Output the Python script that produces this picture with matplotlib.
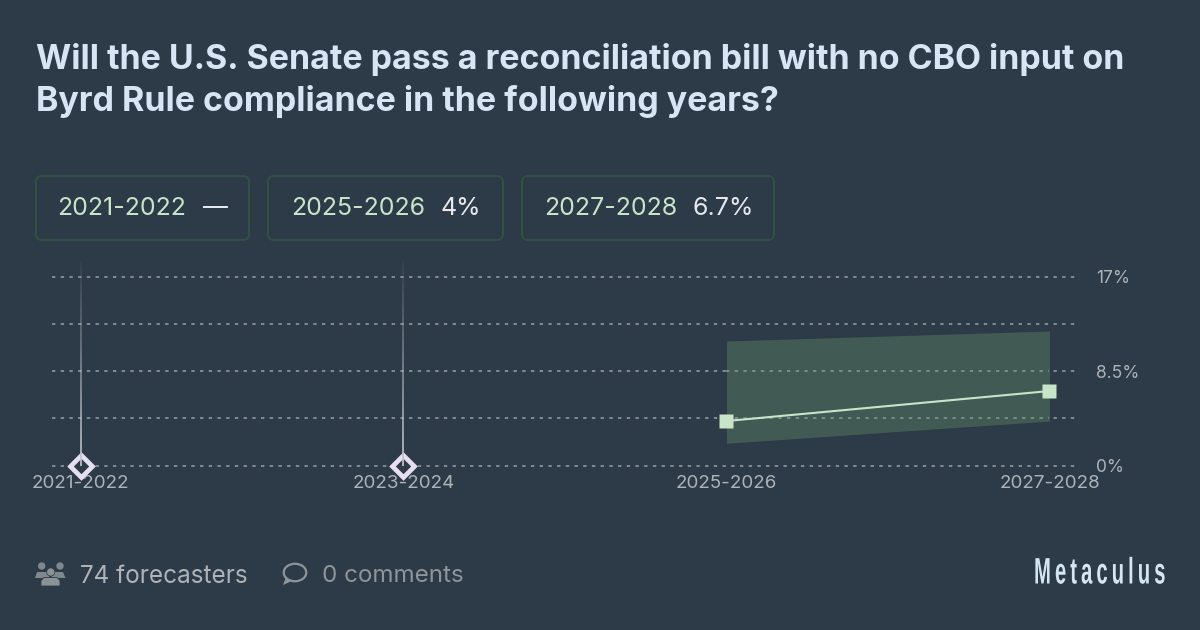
import numpy as np
import matplotlib
matplotlib.use('Agg')
import matplotlib.pyplot as plt
from matplotlib import font_manager
from matplotlib.collections import LineCollection
from matplotlib.patches import Circle, Ellipse, FancyBboxPatch, Polygon
from matplotlib.patheffects import AbstractPathEffect
from matplotlib.transforms import Affine2D

plt.rcParams['font.family'] = ['Inter', 'DejaVu Sans']

title_lines = ["Will the U.S. Senate pass a reconciliation bill with no CBO input on",
               "Byrd Rule compliance in the following years?"]
periods = ["2021-2022", "2023-2024", "2025-2026", "2027-2028"]
legend_labels = ["2021-2022", "2025-2026", "2027-2028"]
legend_values = ["—", "4%", "6.7%"]
annulled = [0, 1]
pred_x = [2, 3]
pred_mid = [4.0, 6.7]
pred_low = [2.0, 4.0]
pred_high = [11.2, 12.1]
grid_vals = [0, 4.25, 8.5, 12.75, 17]
y_ticks = [0, 8.5, 17]
y_tick_labels = ["0%", "8.5%", "17%"]

BG = '#2d3a47'
MINT = '#c8e4c9'
TICK = '#aeb3b8'
FOOT = '#8f9599'
GRID = '#98a0a7'
DASH = (2.2, 3.5)


class SqueezeX(AbstractPathEffect):
    # narrows text horizontally about a fixed pixel x
    def __init__(self, x0, factor):
        super().__init__()
        self.x0 = x0
        self.factor = factor

    def draw_path(self, renderer, gc, tpath, affine, rgbFace=None):
        squeeze = Affine2D().translate(-self.x0, 0).scale(self.factor, 1).translate(self.x0, 0)
        renderer.draw_path(gc, tpath, affine + squeeze, rgbFace)


fig = plt.figure(figsize=(12, 6.3), dpi=100, facecolor=BG)

# page layer in pixel coordinates, y pointing down
page = fig.add_axes([0, 0, 1, 1])
page.set_xlim(0, 1200)
page.set_ylim(630, 0)
page.axis('off')

page.text(35.5, 59, title_lines[0], color='#d7e5f4', fontsize=24.45, fontweight='bold', va='center')
page.text(35.5, 102, title_lines[1], color='#d7e5f4', fontsize=24.45, fontweight='bold', va='center')

box_left = [36, 268, 522]
box_right = [249, 503, 774]
label_x = [57, 291, 544]
value_x = [203, 440, 692]
for i in range(len(legend_labels)):
    page.add_patch(FancyBboxPatch((box_left[i], 176), box_right[i] - box_left[i], 64,
                                  boxstyle="round,pad=0,rounding_size=6",
                                  fc='none', ec='#2f5243', lw=1.5))
    page.text(label_x[i], 208.5, legend_labels[i], color=MINT, fontsize=17.95, va='center')
    page.text(value_x[i], 208.5, legend_values[i], color='#e6eaee', fontsize=17.95, va='center')

# forecasters icon: three people
for cx in [41.7, 60]:
    page.add_patch(Circle((cx, 566), 3.7, fc='#7f888f', ec='none'))
page.add_patch(Polygon([(35, 578), (37, 572), (47, 572), (50, 578)], fc='#7f888f', ec='none'))
page.add_patch(Polygon([(51, 578), (54, 572), (63, 572), (65.5, 578)], fc='#7f888f', ec='none'))
page.add_patch(Circle((50.7, 572), 4.4, fc=BG, ec='none'))
page.add_patch(Circle((50.7, 572), 3.7, fc='#8a9298', ec='none'))
page.add_patch(Polygon([(41, 586), (41, 580.5), (44, 577.5), (57, 577.5), (60, 580.5), (60, 586)],
                       fc='#8a9298', ec=BG, lw=0.6))
page.text(80, 576.5, "74 forecasters", color=TICK, fontsize=17.5, va='center')

# comment bubble
page.add_patch(Polygon([(286, 577), (283, 585), (292, 581)], fc=FOOT, ec='none'))
page.add_patch(Ellipse((295, 572.5), 22.5, 17.5, fc=BG, ec=FOOT, lw=1.6))
page.text(322, 576.5, "0 comments", color=FOOT, fontsize=17.4, va='center')

# wordmark, squeezed to a condensed look
names = {f.name for f in font_manager.fontManager.ttflist}
mark_font = 'Liberation Sans Narrow' if 'Liberation Sans Narrow' in names else 'Liberation Sans'
page.text(1165.5, 574, "M\u2009e\u2009t\u2009a\u2009c\u2009u\u2009l\u2009u\u2009s", color='#d5e6f3', fontsize=26.5,
          fontweight='bold', family=[mark_font, 'DejaVu Sans'], va='center', ha='right',
          path_effects=[SqueezeX(1165.5, 0.55)])

# chart layer: data scales placed by the pixel extents of the plot
px_per_x = (1049.5 - 80.5) / 3
px_per_y = (465.5 - 276.5) / 17
ax = fig.add_axes([52 / 1200, 1 - 465.5 / 630, (1078 - 52) / 1200, (465.5 - 262) / 630])
ax.patch.set_alpha(0)
ax.set_xlim(-(80.5 - 52) / px_per_x, 3 + (1078 - 1049.5) / px_per_x)
ax.set_ylim(0, (465.5 - 262) / px_per_y)
for s in ax.spines.values():
    s.set_visible(False)

for v in grid_vals:
    ax.axhline(v, color=GRID, lw=1.1, dashes=DASH, zorder=1, clip_on=False)

ax.fill_between(pred_x, pred_low, pred_high, color='#415a54', lw=0, zorder=2)
for v in grid_vals[1:3]:
    ax.plot(pred_x, [v, v], color='#8a9a94', lw=1.1, dashes=DASH, zorder=3)
ax.plot(pred_x, pred_mid, color=MINT, lw=1.5, zorder=4)
ax.plot(pred_x, pred_mid, ls='none', marker='s', ms=10, mfc=MINT, mec='none', zorder=5, clip_on=False)

# annulled periods: diamond at the baseline, stem fading upward
ax.plot(annulled, [0, 0], ls='none', marker='D', ms=11, mfc=BG, mec='#e5dff0', mew=3.4, zorder=5, clip_on=False)
top = ax.get_ylim()[1]
levels = np.linspace(0, top, 60)
for x in annulled:
    segs = [[(x, levels[i]), (x, levels[i + 1])] for i in range(len(levels) - 1)]
    cols = [(0.74, 0.76, 0.79, 0.95 * (1 - lv / top) + 0.03) for lv in levels[:-1]]
    ax.add_collection(LineCollection(segs, colors=cols, linewidths=1.3, zorder=6, capstyle='butt'))

ax.set_xticks(range(len(periods)))
ax.set_xticklabels(periods, color=TICK, fontsize=13.5)
ax.set_yticks(y_ticks)
ax.set_yticklabels(y_tick_labels, color=TICK, fontsize=12.5)
ax.yaxis.tick_right()
ax.tick_params(axis='both', length=0)
ax.tick_params(axis='x', pad=7)
ax.tick_params(axis='y', pad=13)

fig.savefig('out.png', dpi=100, facecolor=BG)
